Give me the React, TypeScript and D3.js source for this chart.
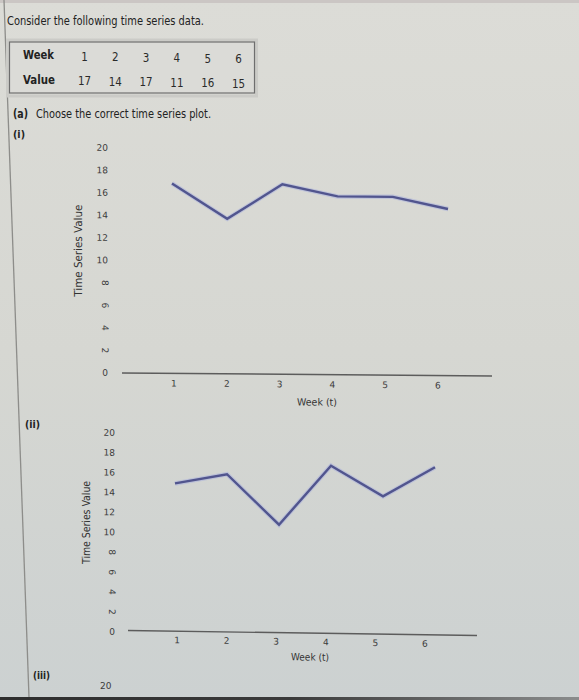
import React from "react";
import * as d3 from "d3";

// ---------- data ----------
const weeks = [1, 2, 3, 4, 5, 6];
const values = [17, 14, 17, 11, 16, 15];
const plotIValues = [17, 14, 17, 16, 16, 15];
const plotIIValues = [15, 16, 11, 17, 14, 17];
const yTicks = [0, 2, 4, 6, 8, 10, 12, 14, 16, 18, 20];
const xTicks = [1, 2, 3, 4, 5, 6];
const yTitle = "Time Series Value";
const xTitle = "Week (t)";

const FONT = "'DejaVu Sans', Verdana, sans-serif";

type PlotCfg = {
  series: number[];
  yAxisRange: [number, number];
  yLineRange: [number, number];
  tickRight: number;
  xTickRange: [number, number];
  xTickY: number;
  xLineRange: [number, number];
  axisX: [number, number];
  axisY: number;
  skew: number;
  yTitlePos: [number, number];
  yTitleLen: number;
  xTitlePos: [number, number];
  xTitleLen: number;
};

const plots: PlotCfg[] = [
  {
    series: plotIValues,
    yAxisRange: [373, 148],
    yLineRange: [381.4, 148],
    tickRight: 108,
    xTickRange: [174, 438],
    xTickY: 386,
    xLineRange: [172, 448],
    axisX: [122, 492],
    axisY: 373,
    skew: 0.008,
    yTitlePos: [79, 251],
    yTitleLen: 92,
    xTitlePos: [317, 404],
    xTitleLen: 40,
  },
  {
    series: plotIIValues,
    yAxisRange: [632, 433],
    yLineRange: [632, 433],
    tickRight: 115,
    xTickRange: [177, 425],
    xTickY: 642.5,
    xLineRange: [175, 435],
    axisX: [128, 477],
    axisY: 630.5,
    skew: 0.0143,
    yTitlePos: [87, 523],
    yTitleLen: 83,
    xTitlePos: [310, 658],
    xTitleLen: 38,
  },
];

function Plot({ cfg }: { cfg: PlotCfg }) {
  const yAxis = d3.scaleLinear().domain([0, 20]).range(cfg.yAxisRange);
  const yLine = d3.scaleLinear().domain([0, 20]).range(cfg.yLineRange);
  const xTick = d3.scaleLinear().domain([1, 6]).range(cfg.xTickRange);
  const xLine = d3.scaleLinear().domain([1, 6]).range(cfg.xLineRange);
  const line = d3
    .line<number>()
    .x((_, i) => xLine(weeks[i]))
    .y((d) => yLine(d));
  const path = line(cfg.series) || "";
  const p0 = cfg.axisX[0];
  const [tx, ty] = cfg.yTitlePos;
  return (
    <g
      transform={`translate(${p0},0) matrix(1,${cfg.skew},0,1,0,0) translate(${-p0},0)`}
      fontFamily={FONT}
    >
      {yTicks.map((t) => {
        const y = yAxis(t);
        const s = String(t);
        if (s.length === 1 && t !== 0) {
          const cx = cfg.tickRight - 3;
          return (
            <text
              key={t}
              x={cx}
              y={y}
              fontSize={9}
              fill="#3c3c3c"
              textAnchor="middle"
              dominantBaseline="central"
              transform={`rotate(90,${cx},${y})`}
            >
              {s}
            </text>
          );
        }
        return (
          <text
            key={t}
            x={cfg.tickRight}
            y={y}
            fontSize={9}
            fill="#3c3c3c"
            textAnchor="end"
            dominantBaseline="central"
          >
            {s}
          </text>
        );
      })}
      <line
        x1={cfg.axisX[0]}
        x2={cfg.axisX[1]}
        y1={cfg.axisY}
        y2={cfg.axisY}
        stroke="#5c5c5c"
        strokeWidth={1.4}
      />
      {xTicks.map((t) => (
        <text
          key={t}
          x={xTick(t)}
          y={cfg.xTickY}
          fontSize={9}
          fill="#3c3c3c"
          textAnchor="middle"
        >
          {t}
        </text>
      ))}
      <text
        x={cfg.xTitlePos[0]}
        y={cfg.xTitlePos[1]}
        fontSize={10}
        fill="#333"
        textAnchor="middle"
        textLength={cfg.xTitleLen}
        lengthAdjust="spacingAndGlyphs"
      >
        {xTitle}
      </text>
      <text
        x={tx}
        y={ty}
        fontSize={11}
        fill="#333"
        textAnchor="middle"
        dominantBaseline="central"
        textLength={cfg.yTitleLen}
        lengthAdjust="spacingAndGlyphs"
        transform={`rotate(-90,${tx},${ty})`}
      >
        {yTitle}
      </text>
      <path d={path} fill="none" stroke="#aab0dc" strokeOpacity={0.55} strokeWidth={4.5} strokeLinejoin="miter" />
      <path d={path} fill="none" stroke="#51558e" strokeWidth={2.4} strokeLinejoin="miter" />
    </g>
  );
}

function Table() {
  const col = d3.scalePoint<number>().domain(weeks).range([84.5, 238.5]);
  const tilt = (x: number) => (x - 84) * 0.016;
  return (
    <g fontFamily={FONT}>
      <rect x={7.5} y={40} width={249} height={56} fill="none" stroke="#cbcbc7" strokeWidth={3} />
      <rect x={9.5} y={42} width={245} height={51} fill="#dbdbd7" stroke="#6e6e6e" strokeWidth={1.2} />
      <text x={23} y={59} fontSize={12} fontWeight="bold" fill="#222" textLength={31} lengthAdjust="spacingAndGlyphs">
        Week
      </text>
      <text x={23} y={84} fontSize={12} fontWeight="bold" fill="#222" textLength={32} lengthAdjust="spacingAndGlyphs">
        Value
      </text>
      {weeks.map((w) => {
        const x = col(w) as number;
        return (
          <text key={w} x={x} y={61 + tilt(x)} fontSize={12} fill="#2a2a2a" textAnchor="middle"
            transform={`translate(${x},0) scale(0.86,1) translate(${-x},0)`}>
            {w}
          </text>
        );
      })}
      {values.map((v, i) => {
        const x = col(weeks[i]) as number;
        return (
          <text key={i} x={x} y={85.5 + tilt(x)} fontSize={12} fill="#2a2a2a" textAnchor="middle"
            transform={`translate(${x},0) scale(0.86,1) translate(${-x},0)`}>
            {v}
          </text>
        );
      })}
    </g>
  );
}

export default function App() {
  return (
    <svg
      width={579}
      height={700}
      viewBox="0 0 579 700"
      style={{ position: "fixed", left: 0, top: 0, display: "block" }}
    >
      <defs>
        <linearGradient id="bg" x1="0" y1="0" x2="0" y2="1">
          <stop offset="0" stopColor="#dcdcd7" />
          <stop offset="0.5" stopColor="#d6d7d2" />
          <stop offset="1" stopColor="#ccd1d1" />
        </linearGradient>
        <linearGradient id="bot" x1="0" y1="0" x2="1" y2="0">
          <stop offset="0" stopColor="#2e2e2e" />
          <stop offset="0.5" stopColor="#3a3a3a" />
          <stop offset="1" stopColor="#8a8c8c" />
        </linearGradient>
      </defs>
      <rect x={0} y={0} width={579} height={700} fill="url(#bg)" />
      <rect x={0} y={0} width={579} height={3} fill="#cbc6c4" />
      <line x1={4} y1={0} x2={29} y2={697} stroke="#8d8d8a" strokeWidth={1.3} />
      <rect x={0} y={697} width={579} height={3} fill="url(#bot)" />

      <g fontFamily={FONT} fill="#222">
        <text x={7} y={25} fontSize={11.5} textLength={197} lengthAdjust="spacingAndGlyphs">
          Consider the following time series data.
        </text>
        <text x={13} y={118} fontSize={11.5} fontWeight="bold" textLength={15} lengthAdjust="spacingAndGlyphs">
          (a)
        </text>
        <text x={36} y={118} fontSize={11.5} textLength={175} lengthAdjust="spacingAndGlyphs">
          Choose the correct time series plot.
        </text>
        <text x={13} y={138} fontSize={11} fontWeight="bold" textLength={12} lengthAdjust="spacingAndGlyphs">
          (i)
        </text>
        <text x={25} y={428} fontSize={10} fontWeight="bold" textLength={15} lengthAdjust="spacingAndGlyphs">
          (ii)
        </text>
        <text x={33} y={679} fontSize={10} fontWeight="bold" textLength={17} lengthAdjust="spacingAndGlyphs">
          (iii)
        </text>
        <text x={100} y={689} fontSize={9} fill="#3c3c3c">
          20
        </text>
      </g>

      <Table />
      {plots.map((p, i) => (
        <Plot key={i} cfg={p} />
      ))}
    </svg>
  );
}
